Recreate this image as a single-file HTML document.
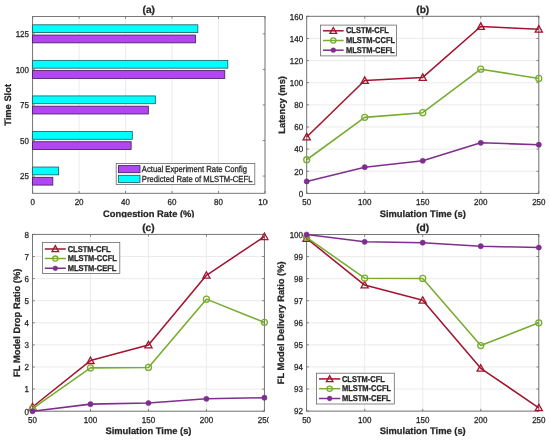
<!DOCTYPE html>
<html><head><meta charset="utf-8"><style>
html,body{margin:0;padding:0;background:#fff;width:550px;height:442px;overflow:hidden}
svg{display:block;filter:blur(0.35px)}
text{font-family:"Liberation Sans", sans-serif;fill:#262626;stroke:#262626;stroke-width:0.25px;text-rendering:geometricPrecision}
</style></head><body>
<svg width="550" height="442" viewBox="0 0 550 442">
<defs>
<clipPath id="clipA"><rect x="0" y="0" width="267.9" height="217.5"/></clipPath>
<clipPath id="clipC"><rect x="0" y="217.5" width="268.8" height="224.5"/></clipPath>
</defs>
<rect width="550" height="442" fill="#fff"/>
<g clip-path="url(#clipA)">
<line x1="32.60" y1="16.50" x2="32.60" y2="193.30" stroke="#e3e3e3" stroke-width="0.7"/>
<line x1="79.08" y1="16.50" x2="79.08" y2="193.30" stroke="#e3e3e3" stroke-width="0.7"/>
<line x1="125.56" y1="16.50" x2="125.56" y2="193.30" stroke="#e3e3e3" stroke-width="0.7"/>
<line x1="172.04" y1="16.50" x2="172.04" y2="193.30" stroke="#e3e3e3" stroke-width="0.7"/>
<line x1="218.52" y1="16.50" x2="218.52" y2="193.30" stroke="#e3e3e3" stroke-width="0.7"/>
<line x1="265.00" y1="16.50" x2="265.00" y2="193.30" stroke="#e3e3e3" stroke-width="0.7"/>
<rect x="32.60" y="16.50" width="232.40" height="176.80" fill="none" stroke="#6a6a6a" stroke-width="0.9"/>
<line x1="32.60" y1="193.30" x2="32.60" y2="191.00" stroke="#6a6a6a" stroke-width="0.8"/>
<line x1="32.60" y1="16.50" x2="32.60" y2="18.80" stroke="#6a6a6a" stroke-width="0.8"/>
<line x1="79.08" y1="193.30" x2="79.08" y2="191.00" stroke="#6a6a6a" stroke-width="0.8"/>
<line x1="79.08" y1="16.50" x2="79.08" y2="18.80" stroke="#6a6a6a" stroke-width="0.8"/>
<line x1="125.56" y1="193.30" x2="125.56" y2="191.00" stroke="#6a6a6a" stroke-width="0.8"/>
<line x1="125.56" y1="16.50" x2="125.56" y2="18.80" stroke="#6a6a6a" stroke-width="0.8"/>
<line x1="172.04" y1="193.30" x2="172.04" y2="191.00" stroke="#6a6a6a" stroke-width="0.8"/>
<line x1="172.04" y1="16.50" x2="172.04" y2="18.80" stroke="#6a6a6a" stroke-width="0.8"/>
<line x1="218.52" y1="193.30" x2="218.52" y2="191.00" stroke="#6a6a6a" stroke-width="0.8"/>
<line x1="218.52" y1="16.50" x2="218.52" y2="18.80" stroke="#6a6a6a" stroke-width="0.8"/>
<line x1="265.00" y1="193.30" x2="265.00" y2="191.00" stroke="#6a6a6a" stroke-width="0.8"/>
<line x1="265.00" y1="16.50" x2="265.00" y2="18.80" stroke="#6a6a6a" stroke-width="0.8"/>
<line x1="32.60" y1="176.09" x2="34.90" y2="176.09" stroke="#6a6a6a" stroke-width="0.8"/>
<line x1="265.00" y1="176.09" x2="262.70" y2="176.09" stroke="#6a6a6a" stroke-width="0.8"/>
<line x1="32.60" y1="140.53" x2="34.90" y2="140.53" stroke="#6a6a6a" stroke-width="0.8"/>
<line x1="265.00" y1="140.53" x2="262.70" y2="140.53" stroke="#6a6a6a" stroke-width="0.8"/>
<line x1="32.60" y1="104.97" x2="34.90" y2="104.97" stroke="#6a6a6a" stroke-width="0.8"/>
<line x1="265.00" y1="104.97" x2="262.70" y2="104.97" stroke="#6a6a6a" stroke-width="0.8"/>
<line x1="32.60" y1="69.41" x2="34.90" y2="69.41" stroke="#6a6a6a" stroke-width="0.8"/>
<line x1="265.00" y1="69.41" x2="262.70" y2="69.41" stroke="#6a6a6a" stroke-width="0.8"/>
<line x1="32.60" y1="33.85" x2="34.90" y2="33.85" stroke="#6a6a6a" stroke-width="0.8"/>
<line x1="265.00" y1="33.85" x2="262.70" y2="33.85" stroke="#6a6a6a" stroke-width="0.8"/>
<rect x="32.60" y="167.04" width="26.03" height="7.80" fill="#00FFFF" stroke="#1a5a5a" stroke-width="0.8"/>
<rect x="32.60" y="177.29" width="20.22" height="7.80" fill="#B146F2" stroke="#3a1a55" stroke-width="0.8"/>
<rect x="32.60" y="131.48" width="99.70" height="7.80" fill="#00FFFF" stroke="#1a5a5a" stroke-width="0.8"/>
<rect x="32.60" y="141.73" width="98.54" height="7.80" fill="#B146F2" stroke="#3a1a55" stroke-width="0.8"/>
<rect x="32.60" y="95.92" width="122.71" height="7.80" fill="#00FFFF" stroke="#1a5a5a" stroke-width="0.8"/>
<rect x="32.60" y="106.17" width="115.74" height="7.80" fill="#B146F2" stroke="#3a1a55" stroke-width="0.8"/>
<rect x="32.60" y="60.36" width="195.22" height="7.80" fill="#00FFFF" stroke="#1a5a5a" stroke-width="0.8"/>
<rect x="32.60" y="70.61" width="192.19" height="7.80" fill="#B146F2" stroke="#3a1a55" stroke-width="0.8"/>
<rect x="32.60" y="24.80" width="165.24" height="7.80" fill="#00FFFF" stroke="#1a5a5a" stroke-width="0.8"/>
<rect x="32.60" y="35.05" width="162.91" height="7.80" fill="#B146F2" stroke="#3a1a55" stroke-width="0.8"/>
<text transform="translate(32.60 205.20) scale(1 1.08)" text-anchor="middle" font-size="8.0">0</text>
<text transform="translate(79.08 205.20) scale(1 1.08)" text-anchor="middle" font-size="8.0">20</text>
<text transform="translate(125.56 205.20) scale(1 1.08)" text-anchor="middle" font-size="8.0">40</text>
<text transform="translate(172.04 205.20) scale(1 1.08)" text-anchor="middle" font-size="8.0">60</text>
<text transform="translate(218.52 205.20) scale(1 1.08)" text-anchor="middle" font-size="8.0">80</text>
<text transform="translate(265.00 205.20) scale(1 1.08)" text-anchor="middle" font-size="8.0">100</text>
<text transform="translate(29.00 179.39) scale(1 1.08)" text-anchor="end" font-size="8.0">25</text>
<text transform="translate(29.00 143.83) scale(1 1.08)" text-anchor="end" font-size="8.0">50</text>
<text transform="translate(29.00 108.27) scale(1 1.08)" text-anchor="end" font-size="8.0">75</text>
<text transform="translate(29.00 72.71) scale(1 1.08)" text-anchor="end" font-size="8.0">100</text>
<text transform="translate(29.00 37.15) scale(1 1.08)" text-anchor="end" font-size="8.0">125</text>
<text x="148.80" y="12.70" text-anchor="middle" font-size="10.2" font-weight="bold">(a)</text>
<text x="148.80" y="216.50" text-anchor="middle" font-size="9.35" font-weight="bold">Congestion Rate (%)</text>
<text x="10.60" y="104.90" text-anchor="middle" font-size="9.35" font-weight="bold" transform="rotate(-90 10.60 104.90)">Time Slot</text>
<rect x="116.2" y="163.4" width="138.6" height="21.1" fill="#fff" stroke="#6a6a6a" stroke-width="0.8"/>
<rect x="118.5" y="165.6" width="21.5" height="7.1" fill="#B146F2" stroke="#3a1a55" stroke-width="0.8"/>
<rect x="118.5" y="175.3" width="21.5" height="7.1" fill="#00FFFF" stroke="#1a5a5a" stroke-width="0.8"/>
<text transform="translate(141.80 172.10) scale(1 1.14)" font-size="7.7">Actual Experiment Rate Config</text>
<text transform="translate(141.80 181.80) scale(1 1.14)" font-size="7.7">Predicted Rate of MLSTM-CEFL</text>
</g>
<line x1="306.70" y1="16.30" x2="306.70" y2="193.40" stroke="#e3e3e3" stroke-width="0.7"/>
<line x1="364.72" y1="16.30" x2="364.72" y2="193.40" stroke="#e3e3e3" stroke-width="0.7"/>
<line x1="422.75" y1="16.30" x2="422.75" y2="193.40" stroke="#e3e3e3" stroke-width="0.7"/>
<line x1="480.77" y1="16.30" x2="480.77" y2="193.40" stroke="#e3e3e3" stroke-width="0.7"/>
<line x1="538.80" y1="16.30" x2="538.80" y2="193.40" stroke="#e3e3e3" stroke-width="0.7"/>
<line x1="306.70" y1="193.40" x2="538.80" y2="193.40" stroke="#e3e3e3" stroke-width="0.7"/>
<line x1="306.70" y1="171.26" x2="538.80" y2="171.26" stroke="#e3e3e3" stroke-width="0.7"/>
<line x1="306.70" y1="149.12" x2="538.80" y2="149.12" stroke="#e3e3e3" stroke-width="0.7"/>
<line x1="306.70" y1="126.99" x2="538.80" y2="126.99" stroke="#e3e3e3" stroke-width="0.7"/>
<line x1="306.70" y1="104.85" x2="538.80" y2="104.85" stroke="#e3e3e3" stroke-width="0.7"/>
<line x1="306.70" y1="82.71" x2="538.80" y2="82.71" stroke="#e3e3e3" stroke-width="0.7"/>
<line x1="306.70" y1="60.58" x2="538.80" y2="60.58" stroke="#e3e3e3" stroke-width="0.7"/>
<line x1="306.70" y1="38.44" x2="538.80" y2="38.44" stroke="#e3e3e3" stroke-width="0.7"/>
<line x1="306.70" y1="16.30" x2="538.80" y2="16.30" stroke="#e3e3e3" stroke-width="0.7"/>
<rect x="306.70" y="16.30" width="232.10" height="177.10" fill="none" stroke="#6a6a6a" stroke-width="0.9"/>
<line x1="306.70" y1="193.40" x2="306.70" y2="191.10" stroke="#6a6a6a" stroke-width="0.8"/>
<line x1="306.70" y1="16.30" x2="306.70" y2="18.60" stroke="#6a6a6a" stroke-width="0.8"/>
<line x1="364.72" y1="193.40" x2="364.72" y2="191.10" stroke="#6a6a6a" stroke-width="0.8"/>
<line x1="364.72" y1="16.30" x2="364.72" y2="18.60" stroke="#6a6a6a" stroke-width="0.8"/>
<line x1="422.75" y1="193.40" x2="422.75" y2="191.10" stroke="#6a6a6a" stroke-width="0.8"/>
<line x1="422.75" y1="16.30" x2="422.75" y2="18.60" stroke="#6a6a6a" stroke-width="0.8"/>
<line x1="480.77" y1="193.40" x2="480.77" y2="191.10" stroke="#6a6a6a" stroke-width="0.8"/>
<line x1="480.77" y1="16.30" x2="480.77" y2="18.60" stroke="#6a6a6a" stroke-width="0.8"/>
<line x1="538.80" y1="193.40" x2="538.80" y2="191.10" stroke="#6a6a6a" stroke-width="0.8"/>
<line x1="538.80" y1="16.30" x2="538.80" y2="18.60" stroke="#6a6a6a" stroke-width="0.8"/>
<line x1="306.70" y1="193.40" x2="309.00" y2="193.40" stroke="#6a6a6a" stroke-width="0.8"/>
<line x1="538.80" y1="193.40" x2="536.50" y2="193.40" stroke="#6a6a6a" stroke-width="0.8"/>
<line x1="306.70" y1="171.26" x2="309.00" y2="171.26" stroke="#6a6a6a" stroke-width="0.8"/>
<line x1="538.80" y1="171.26" x2="536.50" y2="171.26" stroke="#6a6a6a" stroke-width="0.8"/>
<line x1="306.70" y1="149.12" x2="309.00" y2="149.12" stroke="#6a6a6a" stroke-width="0.8"/>
<line x1="538.80" y1="149.12" x2="536.50" y2="149.12" stroke="#6a6a6a" stroke-width="0.8"/>
<line x1="306.70" y1="126.99" x2="309.00" y2="126.99" stroke="#6a6a6a" stroke-width="0.8"/>
<line x1="538.80" y1="126.99" x2="536.50" y2="126.99" stroke="#6a6a6a" stroke-width="0.8"/>
<line x1="306.70" y1="104.85" x2="309.00" y2="104.85" stroke="#6a6a6a" stroke-width="0.8"/>
<line x1="538.80" y1="104.85" x2="536.50" y2="104.85" stroke="#6a6a6a" stroke-width="0.8"/>
<line x1="306.70" y1="82.71" x2="309.00" y2="82.71" stroke="#6a6a6a" stroke-width="0.8"/>
<line x1="538.80" y1="82.71" x2="536.50" y2="82.71" stroke="#6a6a6a" stroke-width="0.8"/>
<line x1="306.70" y1="60.58" x2="309.00" y2="60.58" stroke="#6a6a6a" stroke-width="0.8"/>
<line x1="538.80" y1="60.58" x2="536.50" y2="60.58" stroke="#6a6a6a" stroke-width="0.8"/>
<line x1="306.70" y1="38.44" x2="309.00" y2="38.44" stroke="#6a6a6a" stroke-width="0.8"/>
<line x1="538.80" y1="38.44" x2="536.50" y2="38.44" stroke="#6a6a6a" stroke-width="0.8"/>
<line x1="306.70" y1="16.30" x2="309.00" y2="16.30" stroke="#6a6a6a" stroke-width="0.8"/>
<line x1="538.80" y1="16.30" x2="536.50" y2="16.30" stroke="#6a6a6a" stroke-width="0.8"/>
<polyline points="306.70,136.95 364.72,80.50 422.75,77.40 480.77,26.48 538.80,29.25" fill="none" stroke="#A2142F" stroke-width="1.55" stroke-linejoin="round"/>
<polygon points="306.70,133.39 310.30,139.87 303.10,139.87" fill="none" stroke="#A2142F" stroke-width="1.3" stroke-linejoin="miter"/>
<polygon points="364.72,76.93 368.32,83.41 361.12,83.41" fill="none" stroke="#A2142F" stroke-width="1.3" stroke-linejoin="miter"/>
<polygon points="422.75,73.84 426.35,80.32 419.15,80.32" fill="none" stroke="#A2142F" stroke-width="1.3" stroke-linejoin="miter"/>
<polygon points="480.77,22.92 484.38,29.40 477.17,29.40" fill="none" stroke="#A2142F" stroke-width="1.3" stroke-linejoin="miter"/>
<polygon points="538.80,25.69 542.40,32.17 535.20,32.17" fill="none" stroke="#A2142F" stroke-width="1.3" stroke-linejoin="miter"/>
<polyline points="306.70,159.75 364.72,117.36 422.75,112.71 480.77,69.21 538.80,78.40" fill="none" stroke="#77AC30" stroke-width="1.55" stroke-linejoin="round"/>
<circle cx="306.70" cy="159.75" r="3.0" fill="none" stroke="#77AC30" stroke-width="1.3"/>
<circle cx="364.72" cy="117.36" r="3.0" fill="none" stroke="#77AC30" stroke-width="1.3"/>
<circle cx="422.75" cy="112.71" r="3.0" fill="none" stroke="#77AC30" stroke-width="1.3"/>
<circle cx="480.77" cy="69.21" r="3.0" fill="none" stroke="#77AC30" stroke-width="1.3"/>
<circle cx="538.80" cy="78.40" r="3.0" fill="none" stroke="#77AC30" stroke-width="1.3"/>
<polyline points="306.70,181.45 364.72,167.17 422.75,160.75 480.77,142.82 538.80,144.70" fill="none" stroke="#7E2F8E" stroke-width="1.55" stroke-linejoin="round"/>
<circle cx="306.70" cy="181.45" r="2.6" fill="#7E2F8E" stroke="#7E2F8E" stroke-width="0.5"/>
<circle cx="364.72" cy="167.17" r="2.6" fill="#7E2F8E" stroke="#7E2F8E" stroke-width="0.5"/>
<circle cx="422.75" cy="160.75" r="2.6" fill="#7E2F8E" stroke="#7E2F8E" stroke-width="0.5"/>
<circle cx="480.77" cy="142.82" r="2.6" fill="#7E2F8E" stroke="#7E2F8E" stroke-width="0.5"/>
<circle cx="538.80" cy="144.70" r="2.6" fill="#7E2F8E" stroke="#7E2F8E" stroke-width="0.5"/>
<text transform="translate(306.70 205.30) scale(1 1.08)" text-anchor="middle" font-size="8.0">50</text>
<text transform="translate(364.72 205.30) scale(1 1.08)" text-anchor="middle" font-size="8.0">100</text>
<text transform="translate(422.75 205.30) scale(1 1.08)" text-anchor="middle" font-size="8.0">150</text>
<text transform="translate(480.77 205.30) scale(1 1.08)" text-anchor="middle" font-size="8.0">200</text>
<text transform="translate(538.80 205.30) scale(1 1.08)" text-anchor="middle" font-size="8.0">250</text>
<text transform="translate(303.10 196.70) scale(1 1.08)" text-anchor="end" font-size="8.0">0</text>
<text transform="translate(303.10 174.56) scale(1 1.08)" text-anchor="end" font-size="8.0">20</text>
<text transform="translate(303.10 152.43) scale(1 1.08)" text-anchor="end" font-size="8.0">40</text>
<text transform="translate(303.10 130.29) scale(1 1.08)" text-anchor="end" font-size="8.0">60</text>
<text transform="translate(303.10 108.15) scale(1 1.08)" text-anchor="end" font-size="8.0">80</text>
<text transform="translate(303.10 86.01) scale(1 1.08)" text-anchor="end" font-size="8.0">100</text>
<text transform="translate(303.10 63.88) scale(1 1.08)" text-anchor="end" font-size="8.0">120</text>
<text transform="translate(303.10 41.74) scale(1 1.08)" text-anchor="end" font-size="8.0">140</text>
<text transform="translate(303.10 19.60) scale(1 1.08)" text-anchor="end" font-size="8.0">160</text>
<text x="422.75" y="12.50" text-anchor="middle" font-size="10.2" font-weight="bold">(b)</text>
<text x="422.75" y="216.60" text-anchor="middle" font-size="9.35" font-weight="bold">Simulation Time (s)</text>
<text x="284.80" y="104.85" text-anchor="middle" font-size="9.35" font-weight="bold" transform="rotate(-90 284.80 104.85)">Latency (ms)</text>
<rect x="320.40" y="25.10" width="76.10" height="30.80" fill="#fff" stroke="#6a6a6a" stroke-width="0.8"/>
<line x1="323.00" y1="30.80" x2="343.60" y2="30.80" stroke="#A2142F" stroke-width="1.5"/>
<polygon points="333.30,27.53 336.60,33.47 330.00,33.47" fill="none" stroke="#A2142F" stroke-width="1.3" stroke-linejoin="miter"/>
<text transform="translate(345.90 33.40) scale(1 1.14)" font-size="7.5" font-weight="bold">CLSTM-CFL</text>
<line x1="323.00" y1="40.50" x2="343.60" y2="40.50" stroke="#77AC30" stroke-width="1.5"/>
<circle cx="333.30" cy="40.50" r="2.6" fill="none" stroke="#77AC30" stroke-width="1.3"/>
<text transform="translate(345.90 43.10) scale(1 1.14)" font-size="7.5" font-weight="bold">MLSTM-CCFL</text>
<line x1="323.00" y1="50.20" x2="343.60" y2="50.20" stroke="#7E2F8E" stroke-width="1.5"/>
<circle cx="333.30" cy="50.20" r="2.4" fill="#7E2F8E" stroke="#7E2F8E" stroke-width="0.5"/>
<text transform="translate(345.90 52.80) scale(1 1.14)" font-size="7.5" font-weight="bold">MLSTM-CEFL</text>
<g clip-path="url(#clipC)">
<line x1="32.50" y1="234.40" x2="32.50" y2="411.20" stroke="#e3e3e3" stroke-width="0.7"/>
<line x1="90.47" y1="234.40" x2="90.47" y2="411.20" stroke="#e3e3e3" stroke-width="0.7"/>
<line x1="148.45" y1="234.40" x2="148.45" y2="411.20" stroke="#e3e3e3" stroke-width="0.7"/>
<line x1="206.42" y1="234.40" x2="206.42" y2="411.20" stroke="#e3e3e3" stroke-width="0.7"/>
<line x1="264.40" y1="234.40" x2="264.40" y2="411.20" stroke="#e3e3e3" stroke-width="0.7"/>
<line x1="32.50" y1="411.20" x2="264.40" y2="411.20" stroke="#e3e3e3" stroke-width="0.7"/>
<line x1="32.50" y1="389.10" x2="264.40" y2="389.10" stroke="#e3e3e3" stroke-width="0.7"/>
<line x1="32.50" y1="367.00" x2="264.40" y2="367.00" stroke="#e3e3e3" stroke-width="0.7"/>
<line x1="32.50" y1="344.90" x2="264.40" y2="344.90" stroke="#e3e3e3" stroke-width="0.7"/>
<line x1="32.50" y1="322.80" x2="264.40" y2="322.80" stroke="#e3e3e3" stroke-width="0.7"/>
<line x1="32.50" y1="300.70" x2="264.40" y2="300.70" stroke="#e3e3e3" stroke-width="0.7"/>
<line x1="32.50" y1="278.60" x2="264.40" y2="278.60" stroke="#e3e3e3" stroke-width="0.7"/>
<line x1="32.50" y1="256.50" x2="264.40" y2="256.50" stroke="#e3e3e3" stroke-width="0.7"/>
<line x1="32.50" y1="234.40" x2="264.40" y2="234.40" stroke="#e3e3e3" stroke-width="0.7"/>
<rect x="32.50" y="234.40" width="231.90" height="176.80" fill="none" stroke="#6a6a6a" stroke-width="0.9"/>
<line x1="32.50" y1="411.20" x2="32.50" y2="408.90" stroke="#6a6a6a" stroke-width="0.8"/>
<line x1="32.50" y1="234.40" x2="32.50" y2="236.70" stroke="#6a6a6a" stroke-width="0.8"/>
<line x1="90.47" y1="411.20" x2="90.47" y2="408.90" stroke="#6a6a6a" stroke-width="0.8"/>
<line x1="90.47" y1="234.40" x2="90.47" y2="236.70" stroke="#6a6a6a" stroke-width="0.8"/>
<line x1="148.45" y1="411.20" x2="148.45" y2="408.90" stroke="#6a6a6a" stroke-width="0.8"/>
<line x1="148.45" y1="234.40" x2="148.45" y2="236.70" stroke="#6a6a6a" stroke-width="0.8"/>
<line x1="206.42" y1="411.20" x2="206.42" y2="408.90" stroke="#6a6a6a" stroke-width="0.8"/>
<line x1="206.42" y1="234.40" x2="206.42" y2="236.70" stroke="#6a6a6a" stroke-width="0.8"/>
<line x1="264.40" y1="411.20" x2="264.40" y2="408.90" stroke="#6a6a6a" stroke-width="0.8"/>
<line x1="264.40" y1="234.40" x2="264.40" y2="236.70" stroke="#6a6a6a" stroke-width="0.8"/>
<line x1="32.50" y1="411.20" x2="34.80" y2="411.20" stroke="#6a6a6a" stroke-width="0.8"/>
<line x1="264.40" y1="411.20" x2="262.10" y2="411.20" stroke="#6a6a6a" stroke-width="0.8"/>
<line x1="32.50" y1="389.10" x2="34.80" y2="389.10" stroke="#6a6a6a" stroke-width="0.8"/>
<line x1="264.40" y1="389.10" x2="262.10" y2="389.10" stroke="#6a6a6a" stroke-width="0.8"/>
<line x1="32.50" y1="367.00" x2="34.80" y2="367.00" stroke="#6a6a6a" stroke-width="0.8"/>
<line x1="264.40" y1="367.00" x2="262.10" y2="367.00" stroke="#6a6a6a" stroke-width="0.8"/>
<line x1="32.50" y1="344.90" x2="34.80" y2="344.90" stroke="#6a6a6a" stroke-width="0.8"/>
<line x1="264.40" y1="344.90" x2="262.10" y2="344.90" stroke="#6a6a6a" stroke-width="0.8"/>
<line x1="32.50" y1="322.80" x2="34.80" y2="322.80" stroke="#6a6a6a" stroke-width="0.8"/>
<line x1="264.40" y1="322.80" x2="262.10" y2="322.80" stroke="#6a6a6a" stroke-width="0.8"/>
<line x1="32.50" y1="300.70" x2="34.80" y2="300.70" stroke="#6a6a6a" stroke-width="0.8"/>
<line x1="264.40" y1="300.70" x2="262.10" y2="300.70" stroke="#6a6a6a" stroke-width="0.8"/>
<line x1="32.50" y1="278.60" x2="34.80" y2="278.60" stroke="#6a6a6a" stroke-width="0.8"/>
<line x1="264.40" y1="278.60" x2="262.10" y2="278.60" stroke="#6a6a6a" stroke-width="0.8"/>
<line x1="32.50" y1="256.50" x2="34.80" y2="256.50" stroke="#6a6a6a" stroke-width="0.8"/>
<line x1="264.40" y1="256.50" x2="262.10" y2="256.50" stroke="#6a6a6a" stroke-width="0.8"/>
<line x1="32.50" y1="234.40" x2="34.80" y2="234.40" stroke="#6a6a6a" stroke-width="0.8"/>
<line x1="264.40" y1="234.40" x2="262.10" y2="234.40" stroke="#6a6a6a" stroke-width="0.8"/>
<polyline points="32.50,407.00 90.47,360.59 148.45,344.90 206.42,275.28 264.40,236.61" fill="none" stroke="#A2142F" stroke-width="1.55" stroke-linejoin="round"/>
<polygon points="32.50,403.44 36.10,409.92 28.90,409.92" fill="none" stroke="#A2142F" stroke-width="1.3" stroke-linejoin="miter"/>
<polygon points="90.47,357.03 94.07,363.51 86.88,363.51" fill="none" stroke="#A2142F" stroke-width="1.3" stroke-linejoin="miter"/>
<polygon points="148.45,341.34 152.05,347.82 144.85,347.82" fill="none" stroke="#A2142F" stroke-width="1.3" stroke-linejoin="miter"/>
<polygon points="206.42,271.72 210.02,278.20 202.82,278.20" fill="none" stroke="#A2142F" stroke-width="1.3" stroke-linejoin="miter"/>
<polygon points="264.40,233.05 268.00,239.53 260.80,239.53" fill="none" stroke="#A2142F" stroke-width="1.3" stroke-linejoin="miter"/>
<polyline points="32.50,408.55 90.47,367.88 148.45,367.44 206.42,299.15 264.40,322.36" fill="none" stroke="#77AC30" stroke-width="1.55" stroke-linejoin="round"/>
<circle cx="32.50" cy="408.55" r="3.0" fill="none" stroke="#77AC30" stroke-width="1.3"/>
<circle cx="90.47" cy="367.88" r="3.0" fill="none" stroke="#77AC30" stroke-width="1.3"/>
<circle cx="148.45" cy="367.44" r="3.0" fill="none" stroke="#77AC30" stroke-width="1.3"/>
<circle cx="206.42" cy="299.15" r="3.0" fill="none" stroke="#77AC30" stroke-width="1.3"/>
<circle cx="264.40" cy="322.36" r="3.0" fill="none" stroke="#77AC30" stroke-width="1.3"/>
<polyline points="32.50,411.20 90.47,404.13 148.45,403.02 206.42,398.82 264.40,397.72" fill="none" stroke="#7E2F8E" stroke-width="1.55" stroke-linejoin="round"/>
<circle cx="32.50" cy="411.20" r="2.6" fill="#7E2F8E" stroke="#7E2F8E" stroke-width="0.5"/>
<circle cx="90.47" cy="404.13" r="2.6" fill="#7E2F8E" stroke="#7E2F8E" stroke-width="0.5"/>
<circle cx="148.45" cy="403.02" r="2.6" fill="#7E2F8E" stroke="#7E2F8E" stroke-width="0.5"/>
<circle cx="206.42" cy="398.82" r="2.6" fill="#7E2F8E" stroke="#7E2F8E" stroke-width="0.5"/>
<circle cx="264.40" cy="397.72" r="2.6" fill="#7E2F8E" stroke="#7E2F8E" stroke-width="0.5"/>
<text transform="translate(32.50 423.10) scale(1 1.08)" text-anchor="middle" font-size="8.0">50</text>
<text transform="translate(90.47 423.10) scale(1 1.08)" text-anchor="middle" font-size="8.0">100</text>
<text transform="translate(148.45 423.10) scale(1 1.08)" text-anchor="middle" font-size="8.0">150</text>
<text transform="translate(206.42 423.10) scale(1 1.08)" text-anchor="middle" font-size="8.0">200</text>
<text transform="translate(264.40 423.10) scale(1 1.08)" text-anchor="middle" font-size="8.0">250</text>
<text transform="translate(28.90 414.50) scale(1 1.08)" text-anchor="end" font-size="8.0">0</text>
<text transform="translate(28.90 392.40) scale(1 1.08)" text-anchor="end" font-size="8.0">1</text>
<text transform="translate(28.90 370.30) scale(1 1.08)" text-anchor="end" font-size="8.0">2</text>
<text transform="translate(28.90 348.20) scale(1 1.08)" text-anchor="end" font-size="8.0">3</text>
<text transform="translate(28.90 326.10) scale(1 1.08)" text-anchor="end" font-size="8.0">4</text>
<text transform="translate(28.90 304.00) scale(1 1.08)" text-anchor="end" font-size="8.0">5</text>
<text transform="translate(28.90 281.90) scale(1 1.08)" text-anchor="end" font-size="8.0">6</text>
<text transform="translate(28.90 259.80) scale(1 1.08)" text-anchor="end" font-size="8.0">7</text>
<text transform="translate(28.90 237.70) scale(1 1.08)" text-anchor="end" font-size="8.0">8</text>
<text x="148.45" y="230.60" text-anchor="middle" font-size="10.2" font-weight="bold">(c)</text>
<text x="148.45" y="434.40" text-anchor="middle" font-size="9.35" font-weight="bold">Simulation Time (s)</text>
<text x="20.10" y="322.80" text-anchor="middle" font-size="9.35" font-weight="bold" transform="rotate(-90 20.10 322.80)">FL Model Drop Ratio (%)</text>
<rect x="42.40" y="242.40" width="77.40" height="31.10" fill="#fff" stroke="#6a6a6a" stroke-width="0.8"/>
<line x1="44.80" y1="248.90" x2="65.80" y2="248.90" stroke="#A2142F" stroke-width="1.5"/>
<polygon points="55.30,245.63 58.60,251.57 52.00,251.57" fill="none" stroke="#A2142F" stroke-width="1.3" stroke-linejoin="miter"/>
<text transform="translate(67.70 251.50) scale(1 1.14)" font-size="7.5" font-weight="bold">CLSTM-CFL</text>
<line x1="44.80" y1="258.60" x2="65.80" y2="258.60" stroke="#77AC30" stroke-width="1.5"/>
<circle cx="55.30" cy="258.60" r="2.6" fill="none" stroke="#77AC30" stroke-width="1.3"/>
<text transform="translate(67.70 261.20) scale(1 1.14)" font-size="7.5" font-weight="bold">MLSTM-CCFL</text>
<line x1="44.80" y1="268.30" x2="65.80" y2="268.30" stroke="#7E2F8E" stroke-width="1.5"/>
<circle cx="55.30" cy="268.30" r="2.4" fill="#7E2F8E" stroke="#7E2F8E" stroke-width="0.5"/>
<text transform="translate(67.70 270.90) scale(1 1.14)" font-size="7.5" font-weight="bold">MLSTM-CEFL</text>
</g>
<line x1="306.60" y1="234.50" x2="306.60" y2="411.10" stroke="#e3e3e3" stroke-width="0.7"/>
<line x1="364.65" y1="234.50" x2="364.65" y2="411.10" stroke="#e3e3e3" stroke-width="0.7"/>
<line x1="422.70" y1="234.50" x2="422.70" y2="411.10" stroke="#e3e3e3" stroke-width="0.7"/>
<line x1="480.75" y1="234.50" x2="480.75" y2="411.10" stroke="#e3e3e3" stroke-width="0.7"/>
<line x1="538.80" y1="234.50" x2="538.80" y2="411.10" stroke="#e3e3e3" stroke-width="0.7"/>
<line x1="306.60" y1="411.10" x2="538.80" y2="411.10" stroke="#e3e3e3" stroke-width="0.7"/>
<line x1="306.60" y1="389.03" x2="538.80" y2="389.03" stroke="#e3e3e3" stroke-width="0.7"/>
<line x1="306.60" y1="366.95" x2="538.80" y2="366.95" stroke="#e3e3e3" stroke-width="0.7"/>
<line x1="306.60" y1="344.88" x2="538.80" y2="344.88" stroke="#e3e3e3" stroke-width="0.7"/>
<line x1="306.60" y1="322.80" x2="538.80" y2="322.80" stroke="#e3e3e3" stroke-width="0.7"/>
<line x1="306.60" y1="300.73" x2="538.80" y2="300.73" stroke="#e3e3e3" stroke-width="0.7"/>
<line x1="306.60" y1="278.65" x2="538.80" y2="278.65" stroke="#e3e3e3" stroke-width="0.7"/>
<line x1="306.60" y1="256.57" x2="538.80" y2="256.57" stroke="#e3e3e3" stroke-width="0.7"/>
<line x1="306.60" y1="234.50" x2="538.80" y2="234.50" stroke="#e3e3e3" stroke-width="0.7"/>
<rect x="306.60" y="234.50" width="232.20" height="176.60" fill="none" stroke="#6a6a6a" stroke-width="0.9"/>
<line x1="306.60" y1="411.10" x2="306.60" y2="408.80" stroke="#6a6a6a" stroke-width="0.8"/>
<line x1="306.60" y1="234.50" x2="306.60" y2="236.80" stroke="#6a6a6a" stroke-width="0.8"/>
<line x1="364.65" y1="411.10" x2="364.65" y2="408.80" stroke="#6a6a6a" stroke-width="0.8"/>
<line x1="364.65" y1="234.50" x2="364.65" y2="236.80" stroke="#6a6a6a" stroke-width="0.8"/>
<line x1="422.70" y1="411.10" x2="422.70" y2="408.80" stroke="#6a6a6a" stroke-width="0.8"/>
<line x1="422.70" y1="234.50" x2="422.70" y2="236.80" stroke="#6a6a6a" stroke-width="0.8"/>
<line x1="480.75" y1="411.10" x2="480.75" y2="408.80" stroke="#6a6a6a" stroke-width="0.8"/>
<line x1="480.75" y1="234.50" x2="480.75" y2="236.80" stroke="#6a6a6a" stroke-width="0.8"/>
<line x1="538.80" y1="411.10" x2="538.80" y2="408.80" stroke="#6a6a6a" stroke-width="0.8"/>
<line x1="538.80" y1="234.50" x2="538.80" y2="236.80" stroke="#6a6a6a" stroke-width="0.8"/>
<line x1="306.60" y1="411.10" x2="308.90" y2="411.10" stroke="#6a6a6a" stroke-width="0.8"/>
<line x1="538.80" y1="411.10" x2="536.50" y2="411.10" stroke="#6a6a6a" stroke-width="0.8"/>
<line x1="306.60" y1="389.03" x2="308.90" y2="389.03" stroke="#6a6a6a" stroke-width="0.8"/>
<line x1="538.80" y1="389.03" x2="536.50" y2="389.03" stroke="#6a6a6a" stroke-width="0.8"/>
<line x1="306.60" y1="366.95" x2="308.90" y2="366.95" stroke="#6a6a6a" stroke-width="0.8"/>
<line x1="538.80" y1="366.95" x2="536.50" y2="366.95" stroke="#6a6a6a" stroke-width="0.8"/>
<line x1="306.60" y1="344.88" x2="308.90" y2="344.88" stroke="#6a6a6a" stroke-width="0.8"/>
<line x1="538.80" y1="344.88" x2="536.50" y2="344.88" stroke="#6a6a6a" stroke-width="0.8"/>
<line x1="306.60" y1="322.80" x2="308.90" y2="322.80" stroke="#6a6a6a" stroke-width="0.8"/>
<line x1="538.80" y1="322.80" x2="536.50" y2="322.80" stroke="#6a6a6a" stroke-width="0.8"/>
<line x1="306.60" y1="300.73" x2="308.90" y2="300.73" stroke="#6a6a6a" stroke-width="0.8"/>
<line x1="538.80" y1="300.73" x2="536.50" y2="300.73" stroke="#6a6a6a" stroke-width="0.8"/>
<line x1="306.60" y1="278.65" x2="308.90" y2="278.65" stroke="#6a6a6a" stroke-width="0.8"/>
<line x1="538.80" y1="278.65" x2="536.50" y2="278.65" stroke="#6a6a6a" stroke-width="0.8"/>
<line x1="306.60" y1="256.57" x2="308.90" y2="256.57" stroke="#6a6a6a" stroke-width="0.8"/>
<line x1="538.80" y1="256.57" x2="536.50" y2="256.57" stroke="#6a6a6a" stroke-width="0.8"/>
<line x1="306.60" y1="234.50" x2="308.90" y2="234.50" stroke="#6a6a6a" stroke-width="0.8"/>
<line x1="538.80" y1="234.50" x2="536.50" y2="234.50" stroke="#6a6a6a" stroke-width="0.8"/>
<polyline points="306.60,238.47 364.65,285.05 422.70,300.28 480.75,368.27 538.80,407.79" fill="none" stroke="#A2142F" stroke-width="1.55" stroke-linejoin="round"/>
<polygon points="306.60,234.91 310.20,241.39 303.00,241.39" fill="none" stroke="#A2142F" stroke-width="1.3" stroke-linejoin="miter"/>
<polygon points="364.65,281.49 368.25,287.97 361.05,287.97" fill="none" stroke="#A2142F" stroke-width="1.3" stroke-linejoin="miter"/>
<polygon points="422.70,296.72 426.30,303.20 419.10,303.20" fill="none" stroke="#A2142F" stroke-width="1.3" stroke-linejoin="miter"/>
<polygon points="480.75,364.71 484.35,371.19 477.15,371.19" fill="none" stroke="#A2142F" stroke-width="1.3" stroke-linejoin="miter"/>
<polygon points="538.80,404.22 542.40,410.70 535.20,410.70" fill="none" stroke="#A2142F" stroke-width="1.3" stroke-linejoin="miter"/>
<polyline points="306.60,237.37 364.65,278.21 422.70,278.43 480.75,345.54 538.80,322.80" fill="none" stroke="#77AC30" stroke-width="1.55" stroke-linejoin="round"/>
<circle cx="306.60" cy="237.37" r="3.0" fill="none" stroke="#77AC30" stroke-width="1.3"/>
<circle cx="364.65" cy="278.21" r="3.0" fill="none" stroke="#77AC30" stroke-width="1.3"/>
<circle cx="422.70" cy="278.43" r="3.0" fill="none" stroke="#77AC30" stroke-width="1.3"/>
<circle cx="480.75" cy="345.54" r="3.0" fill="none" stroke="#77AC30" stroke-width="1.3"/>
<circle cx="538.80" cy="322.80" r="3.0" fill="none" stroke="#77AC30" stroke-width="1.3"/>
<polyline points="306.60,234.50 364.65,241.78 422.70,242.67 480.75,246.20 538.80,247.52" fill="none" stroke="#7E2F8E" stroke-width="1.55" stroke-linejoin="round"/>
<circle cx="306.60" cy="234.50" r="2.6" fill="#7E2F8E" stroke="#7E2F8E" stroke-width="0.5"/>
<circle cx="364.65" cy="241.78" r="2.6" fill="#7E2F8E" stroke="#7E2F8E" stroke-width="0.5"/>
<circle cx="422.70" cy="242.67" r="2.6" fill="#7E2F8E" stroke="#7E2F8E" stroke-width="0.5"/>
<circle cx="480.75" cy="246.20" r="2.6" fill="#7E2F8E" stroke="#7E2F8E" stroke-width="0.5"/>
<circle cx="538.80" cy="247.52" r="2.6" fill="#7E2F8E" stroke="#7E2F8E" stroke-width="0.5"/>
<text transform="translate(306.60 423.00) scale(1 1.08)" text-anchor="middle" font-size="8.0">50</text>
<text transform="translate(364.65 423.00) scale(1 1.08)" text-anchor="middle" font-size="8.0">100</text>
<text transform="translate(422.70 423.00) scale(1 1.08)" text-anchor="middle" font-size="8.0">150</text>
<text transform="translate(480.75 423.00) scale(1 1.08)" text-anchor="middle" font-size="8.0">200</text>
<text transform="translate(538.80 423.00) scale(1 1.08)" text-anchor="middle" font-size="8.0">250</text>
<text transform="translate(303.00 414.40) scale(1 1.08)" text-anchor="end" font-size="8.0">92</text>
<text transform="translate(303.00 392.33) scale(1 1.08)" text-anchor="end" font-size="8.0">93</text>
<text transform="translate(303.00 370.25) scale(1 1.08)" text-anchor="end" font-size="8.0">94</text>
<text transform="translate(303.00 348.18) scale(1 1.08)" text-anchor="end" font-size="8.0">95</text>
<text transform="translate(303.00 326.10) scale(1 1.08)" text-anchor="end" font-size="8.0">96</text>
<text transform="translate(303.00 304.03) scale(1 1.08)" text-anchor="end" font-size="8.0">97</text>
<text transform="translate(303.00 281.95) scale(1 1.08)" text-anchor="end" font-size="8.0">98</text>
<text transform="translate(303.00 259.88) scale(1 1.08)" text-anchor="end" font-size="8.0">99</text>
<text transform="translate(303.00 237.80) scale(1 1.08)" text-anchor="end" font-size="8.0">100</text>
<text x="422.70" y="230.70" text-anchor="middle" font-size="10.2" font-weight="bold">(d)</text>
<text x="422.70" y="434.30" text-anchor="middle" font-size="9.35" font-weight="bold">Simulation Time (s)</text>
<text x="284.50" y="322.80" text-anchor="middle" font-size="9.35" font-weight="bold" transform="rotate(-90 284.50 322.80)">FL Model Delivery Ratio (%)</text>
<rect x="316.50" y="373.20" width="77.80" height="30.80" fill="#fff" stroke="#6a6a6a" stroke-width="0.8"/>
<line x1="319.00" y1="378.90" x2="340.30" y2="378.90" stroke="#A2142F" stroke-width="1.5"/>
<polygon points="329.65,375.63 332.95,381.57 326.35,381.57" fill="none" stroke="#A2142F" stroke-width="1.3" stroke-linejoin="miter"/>
<text transform="translate(341.90 381.50) scale(1 1.14)" font-size="7.5" font-weight="bold">CLSTM-CFL</text>
<line x1="319.00" y1="388.70" x2="340.30" y2="388.70" stroke="#77AC30" stroke-width="1.5"/>
<circle cx="329.65" cy="388.70" r="2.6" fill="none" stroke="#77AC30" stroke-width="1.3"/>
<text transform="translate(341.90 391.30) scale(1 1.14)" font-size="7.5" font-weight="bold">MLSTM-CCFL</text>
<line x1="319.00" y1="398.50" x2="340.30" y2="398.50" stroke="#7E2F8E" stroke-width="1.5"/>
<circle cx="329.65" cy="398.50" r="2.4" fill="#7E2F8E" stroke="#7E2F8E" stroke-width="0.5"/>
<text transform="translate(341.90 401.10) scale(1 1.14)" font-size="7.5" font-weight="bold">MLSTM-CEFL</text>
</svg>
</body></html>
